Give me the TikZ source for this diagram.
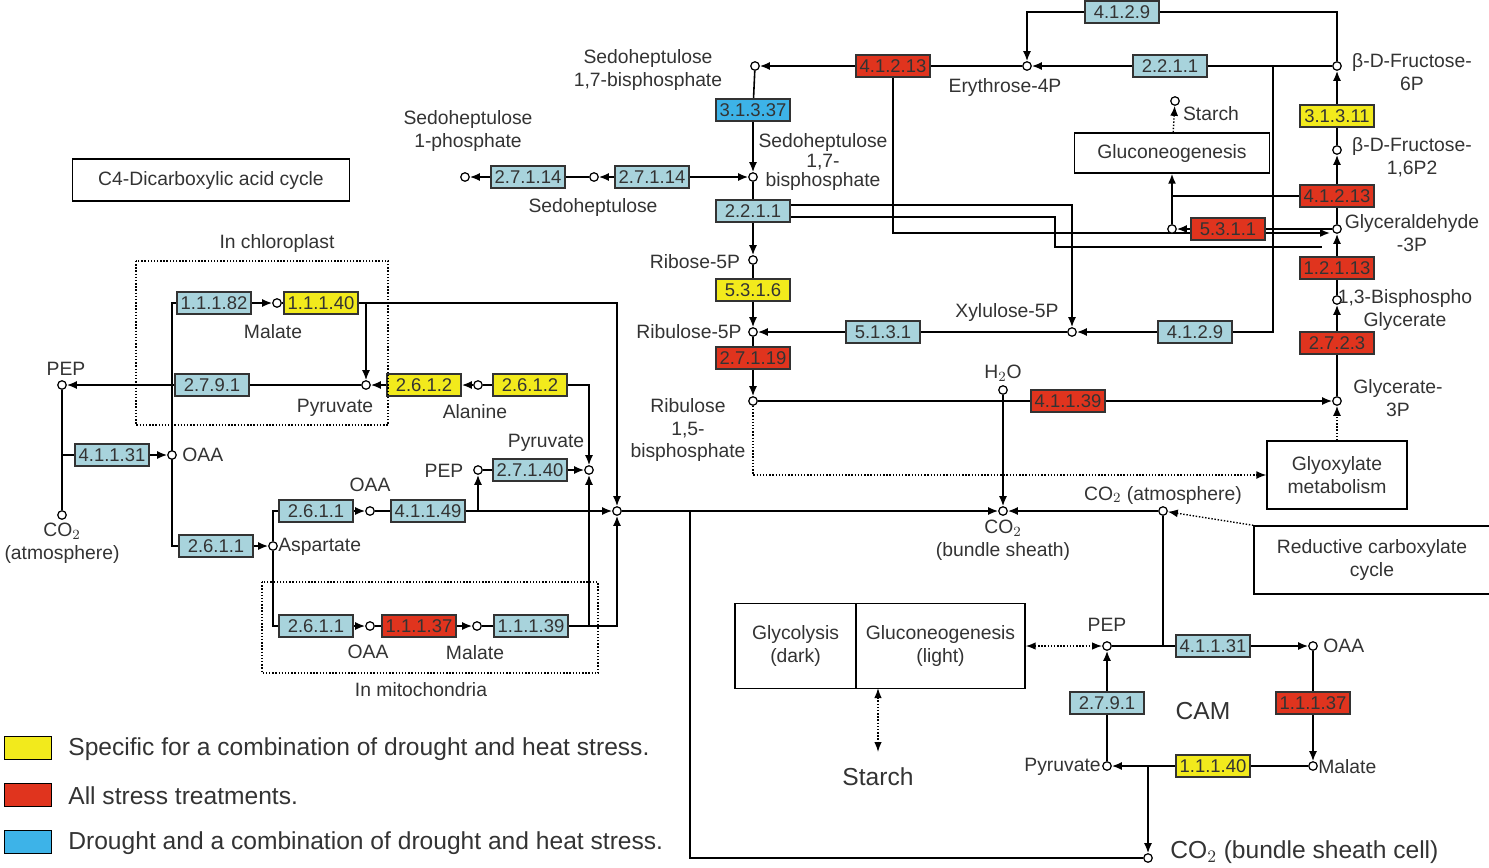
\documentclass[tikz,border=0pt]{standalone}
\usepackage{fontspec}
\setmainfont{Liberation Sans}
\usetikzlibrary{arrows.meta,backgrounds}
\definecolor{lb}{HTML}{A8D3DC}
\definecolor{yl}{HTML}{F2EA1C}
\definecolor{rd}{HTML}{E0341E}
\definecolor{bl}{HTML}{3DB3E8}
\definecolor{tx}{HTML}{333333}
\begin{document}
\begin{tikzpicture}[x=0.02cm,y=-0.02cm,
  every node/.style={font=\fontsize{11}{13}\selectfont,text=tx},
  met/.style={circle,draw,fill=white,inner sep=0,minimum size=0.17cm,line width=0.7pt},
  enz/.style={rectangle,draw=black!80,line width=1pt,minimum width=1.48cm,minimum height=0.44cm,inner sep=0,fill=#1,font=\fontsize{10.5}{12}\selectfont},
  box/.style={rectangle,draw,line width=0.8pt,align=center,inner sep=0},
  lbl/.style={align=center,inner sep=0},
  arr/.style={-{Latex[length=2mm,width=1.6mm]}},
  ln/.style={line width=0.9pt},
  dt/.style={densely dotted,line width=0.8pt}]
\useasboundingbox (0,0) rectangle (1489,867);
% metabolites
\node[met] (sbp1) at (755,66) {};
\node[met] (ery) at (1027,66) {};
\node[met] (f6p) at (1337,66) {};
\node[met] (sbp2) at (753,177) {};
\node[met] (s1p) at (465,177) {};
\node[met] (sh) at (594,177) {};
\node[met] (r5p) at (753,260) {};
\node[met] (ru5p) at (753,332) {};
\node[met] (rubp) at (753,401) {};
\node[met] (xu5p) at (1072,332) {};
\node[met] (f16) at (1337,150) {};
\node[met] (g3p) at (1337,229) {};
\node[met] (bpg) at (1337,300) {};
\node[met] (gly3p) at (1337,401) {};
\node[met] (gc) at (1172,229) {};
\node[met] (starch1) at (1175,101) {};
\node[met] (h2o) at (1003,390) {};
\node[met] (co2bs) at (1003,511) {};
\node[met] (co2atm) at (1163,511) {};
\node[met] (pep2) at (1107,646) {};
\node[met] (oaa2) at (1313,646) {};
\node[met] (mal2) at (1313,766) {};
\node[met] (pyr2) at (1107,766) {};
\node[met] (co2bsc) at (1148,858) {};
\node[met] (junc) at (617,511) {};
\node[met] (mal1) at (277,303) {};
\node[met] (pyr1) at (366,385) {};
\node[met] (pep1) at (62,385) {};
\node[met] (ala) at (478,385) {};
\node[met] (pyr3) at (589,470) {};
\node[met] (pep3) at (478,470) {};
\node[met] (co2a) at (62,515) {};
\node[met] (oaa1) at (172,455) {};
\node[met] (asp) at (273,546) {};
\node[met] (oaa3) at (370,511) {};
\node[met] (oaa4) at (370,626) {};
\node[met] (mal3) at (477,626) {};
% enzymes
\node[enz=lb] (e4129a) at (1122,12) {4.1.2.9};
\node[enz=rd] (e41213a) at (893,66) {4.1.2.13};
\node[enz=lb] (e2211a) at (1170,66) {2.2.1.1};
\node[enz=bl] (e31337) at (753,110) {3.1.3.37};
\node[enz=lb] (e27114a) at (528,177) {2.7.1.14};
\node[enz=lb] (e27114b) at (652,177) {2.7.1.14};
\node[enz=lb] (e2211b) at (753,211) {2.2.1.1};
\node[enz=yl] (e5316) at (753,290) {5.3.1.6};
\node[enz=rd] (e27119) at (753,358) {2.7.1.19};
\node[enz=lb] (e5131) at (883,332) {5.1.3.1};
\node[enz=lb] (e4129b) at (1195,332) {4.1.2.9};
\node[enz=rd] (e41139) at (1068,401) {4.1.1.39};
\node[enz=yl] (e31311) at (1337,116) {3.1.3.11};
\node[enz=rd] (e41213b) at (1337,196) {4.1.2.13};
\node[enz=rd] (e5311) at (1228,229) {5.3.1.1};
\node[enz=rd] (e12113) at (1337,268) {1.2.1.13};
\node[enz=rd] (e2723) at (1337,343) {2.7.2.3};
\node[enz=lb] (e41131b) at (1213,646) {4.1.1.31};
\node[enz=rd] (e11137b) at (1313,703) {1.1.1.37};
\node[enz=yl] (e11140b) at (1213,766) {1.1.1.40};
\node[enz=lb] (e2791b) at (1107,703) {2.7.9.1};
\node[enz=lb] (e11182) at (214,303) {1.1.1.82};
\node[enz=yl] (e11140a) at (321,303) {1.1.1.40};
\node[enz=lb] (e2791a) at (212,385) {2.7.9.1};
\node[enz=yl] (e2612a) at (424,385) {2.6.1.2};
\node[enz=yl] (e2612b) at (530,385) {2.6.1.2};
\node[enz=lb] (e27140) at (530,470) {2.7.1.40};
\node[enz=lb] (e41131a) at (112,455) {4.1.1.31};
\node[enz=lb] (e2611a) at (216,546) {2.6.1.1};
\node[enz=lb] (e2611b) at (316,511) {2.6.1.1};
\node[enz=lb] (e41149) at (428,511) {4.1.1.49};
\node[enz=lb] (e2611c) at (316,626) {2.6.1.1};
\node[enz=rd] (e11137a) at (419,626) {1.1.1.37};
\node[enz=lb] (e11139) at (531,626) {1.1.1.39};
% boxes
\node[box,minimum width=3.9cm,minimum height=0.8cm] (gluco) at (1172,153) {Gluconeogenesis};
\node[box,minimum width=2.8cm,minimum height=1.36cm] (glyox) at (1337,475) {Glyoxylate\\metabolism};
\node[box,minimum width=4.72cm,minimum height=1.36cm] (rcc) at (1372,560) {Reductive carboxylate\\cycle};
\node[box,minimum width=2.42cm,minimum height=1.7cm] (glycA) at (795.5,646) {Glycolysis\\(dark)};
\node[box,minimum width=3.38cm,minimum height=1.7cm] (glycB) at (940.5,646) {Gluconeogenesis\\(light)};
\node[box,minimum width=5.54cm,minimum height=0.84cm] (c4) at (211,180) {C4-Dicarboxylic acid cycle};
% dotted compartments
\draw[dt] (136,261) rectangle (388,425);
\draw[dt] (262,582) rectangle (598,673);
% labels
\node[lbl] at (648,70) {Sedoheptulose\\1,7-bisphosphate};
\node[lbl] at (1005,87) {Erythrose-4P};
\node[lbl] at (1412,72) {β-D-Fructose-\\6P};
\node[lbl] at (1412,157) {β-D-Fructose-\\1,6P2};
\node[lbl] at (1412,233) {Glyceraldehyde\\-3P};
\node[lbl] at (1405,310) {1,3-Bisphospho\\Glycerate};
\node[lbl] at (1398,398) {Glycerate-\\3P};
\node[lbl] at (1211,114) {Starch};
\node[lbl,font=\fontsize{11}{11}\selectfont] at (823,162) {Sedoheptulose\\1,7-\\bisphosphate};
\node[lbl] at (468,131) {Sedoheptulose\\1-phosphate};
\node[lbl] at (593,207) {Sedoheptulose};
\node[lbl] at (695,262) {Ribose-5P};
\node[lbl] at (689,332) {Ribulose-5P};
\node[lbl] at (1007,312) {Xylulose-5P};
\node[lbl] at (688,430) {Ribulose\\1,5-\\bisphosphate};
\node[lbl] at (1003,373) {H$_2$O};
\node[lbl] at (1003,540) {CO$_2$\\(bundle sheath)};
\node[lbl] at (1163,495) {CO$_2$ (atmosphere)};
\node[lbl] at (1107,625) {PEP};
\node[lbl,anchor=west] at (1323,646) {OAA};
\node[lbl,anchor=west] at (1318,767) {Malate};
\node[lbl,anchor=east] at (1101,767) {Pyruvate};
\node[lbl,font=\fontsize{14}{16}\selectfont] at (1203,711) {CAM};
\node[lbl,font=\fontsize{14}{16}\selectfont] at (878,777) {Starch};
\node[lbl,anchor=west,font=\fontsize{14}{16}\selectfont] at (1170,852) {CO$_2$ (bundle sheath cell)};
\node[lbl] at (277,243) {In chloroplast};
\node[lbl] at (273,332) {Malate};
\node[lbl] at (335,408) {Pyruvate};
\node[lbl] at (66,369) {PEP};
\node[lbl] at (475,412) {Alanine};
\node[lbl] at (546,443) {Pyruvate};
\node[lbl] at (444,471) {PEP};
\node[lbl,anchor=west] at (182,455) {OAA};
\node[lbl] at (62,543) {CO$_2$\\(atmosphere)};
\node[lbl,anchor=west] at (278,547) {Aspartate};
\node[lbl] at (370,485) {OAA};
\node[lbl] at (368,652) {OAA};
\node[lbl] at (475,653) {Malate};
\node[lbl] at (421,690) {In mitochondria};
% legend
\node[rectangle,draw,fill=yl,minimum width=0.94cm,minimum height=0.46cm] (ly) at (28,748) {};
\node[rectangle,draw,fill=rd,minimum width=0.94cm,minimum height=0.46cm] (lr) at (28,795) {};
\node[rectangle,draw,fill=bl,minimum width=0.94cm,minimum height=0.46cm] (lbb) at (28,842) {};
\node[lbl,anchor=west,font=\fontsize{14}{16}\selectfont] at (68,749) {Specific for a combination of drought and heat stress.};
\node[lbl,anchor=west,font=\fontsize{14}{16}\selectfont] at (68,796) {All stress treatments.};
\node[lbl,anchor=west,font=\fontsize{14}{16}\selectfont] at (68,843) {Drought and a combination of drought and heat stress.};
% coordinates
\coordinate (c1) at (1055,247);
\coordinate (c2) at (1322,247);
\coordinate (ct) at (1273,66);
\coordinate (c5) at (1163,646);
\coordinate (c6) at (1148,766);
\coordinate (c7) at (690,511);
\coordinate (st1) at (878,688);
\coordinate (st2) at (878,752);
\coordinate (c8) at (366,303);
\coordinate (c9) at (62,455);
\coordinate (c11) at (172,546);
\coordinate (c12) at (478,511);
\coordinate (c13) at (589,626);
\coordinate (g41) at (1330,233);
\begin{pgfonlayer}{background}
\draw[ln,arr] (e4129a) -| (ery);
\draw[ln] (e4129a) -| (f6p);
\draw[ln] (f6p) -- (e2211a);
\draw[ln,arr] (e2211a) -- (ery);
\draw[ln] (ery) -- (e41213a);
\draw[ln,arr] (e41213a) -- (sbp1);
\draw[ln] (sbp1) -- (e31337);
\draw[ln,arr] (e31337) -- (sbp2);
\draw[ln,arr] (e27114a) -- (s1p);
\draw[ln] (sh) -- (e27114a);
\draw[ln,arr] (e27114b) -- (sh);
\draw[ln,arr] (e27114b) -- (sbp2);
\draw[ln] (sbp2) -- (e2211b);
\draw[ln,arr] (e2211b) -- (r5p);
\draw[ln] (r5p) -- (e5316);
\draw[ln,arr] (e5316) -- (ru5p);
\draw[ln] (ru5p) -- (e27119);
\draw[ln,arr] (e27119) -- (rubp);
\draw[ln,arr] ([yshift=0.12cm]e2211b.east) -| (xu5p);
\draw[ln] ([yshift=-0.12cm]e2211b.east) -| (c1) -- (c2);
\draw[ln,arr] (e41213a) |- (g41);
\draw[ln] (g3p) -- (e5311);
\draw[ln,arr] (e5311) -- (gc);
\draw[ln,arr] (gc) -- (gluco);
\draw[ln] (e41213b) -| (gc);
\draw[dt,arr] (gluco) -- (starch1);
\draw[ln,arr] (f16) -- (e31311) -- (f6p);
\draw[ln,arr] (g3p) -- (e41213b) -- (f16);
\draw[ln,arr] (bpg) -- (e12113) -- (g3p);
\draw[ln,arr] (gly3p) -- (e2723) -- (bpg);
\draw[dt,arr] (glyox) -- (gly3p);
\draw[ln] (rubp) -- (e41139);
\draw[ln,arr] (e41139) -- (gly3p);
\draw[dt,arr] (rubp) |- (glyox.west);
\draw[ln] (e4129b) -| (ct);
\draw[ln,arr] (e4129b) -- (xu5p);
\draw[ln] (xu5p) -- (e5131);
\draw[ln,arr] (e5131) -- (ru5p);
\draw[ln,arr] (h2o) -- (co2bs);
\draw[ln,arr] (junc) -- (co2bs);
\draw[ln,arr] (co2atm) -- (co2bs);
\draw[dt,arr] (rcc.north west) -- (co2atm);
\draw[ln] (co2atm) -- (c5);
\draw[dt,{Latex[length=2mm]}-{Latex[length=2mm]}] (glycB.east) -- (pep2);
\draw[ln] (pep2) -- (e41131b);
\draw[ln,arr] (e41131b) -- (oaa2);
\draw[ln] (oaa2) -- (e11137b);
\draw[ln,arr] (e11137b) -- (mal2);
\draw[ln] (mal2) -- (e11140b);
\draw[ln,arr] (e11140b) -- (pyr2);
\draw[ln] (pyr2) -- (e2791b);
\draw[ln,arr] (e2791b) -- (pep2);
\draw[ln,arr] (c6) -- (co2bsc);
\draw[dt,{Latex[length=2mm]}-{Latex[length=2mm]}] (st1) -- (st2);
\draw[ln] (c7) |- (co2bsc);
\draw[ln,arr] (e11182) -- (mal1);
\draw[ln] (mal1) -- (e11140a);
\draw[ln,arr] (e11140a.east) -- (c8) -- (pyr1);
\draw[ln,arr] (e11140a.east) -| (junc);
\draw[ln] (pyr1) -- (e2791a);
\draw[ln,arr] (e2791a) -- (pep1);
\draw[ln,arr] (e2612a) -- (pyr1);
\draw[ln,arr] (ala) -- (e2612a);
\draw[ln] (e2612b) -- (ala);
\draw[ln,arr] (e2612b.east) -| (pyr3);
\draw[ln] (pep3) -- (e27140);
\draw[ln,arr] (e27140) -- (pyr3);
\draw[ln] (pep1) -- (co2a);
\draw[ln] (c9) -- (e41131a);
\draw[ln,arr] (e41131a) -- (oaa1);
\draw[ln] (e11182.west) -| (c11) -- (e2611a);
\draw[ln,arr] (e2611a) -- (asp);
\draw[ln] (asp) |- (e2611b);
\draw[ln,arr] (e2611b) -- (oaa3);
\draw[ln] (oaa3) -- (e41149);
\draw[ln,arr] (e41149) -- (junc);
\draw[ln,arr] (c12) -- (pep3);
\draw[ln] (asp) |- (e2611c);
\draw[ln,arr] (e2611c) -- (oaa4);
\draw[ln] (oaa4) -- (e11137a);
\draw[ln,arr] (e11137a) -- (mal3);
\draw[ln] (mal3) -- (e11139);
\draw[ln,arr] (e11139.east) -| (junc);
\draw[ln,arr] (c13) -- (pyr3);
\end{pgfonlayer}
\end{tikzpicture}
\end{document}
